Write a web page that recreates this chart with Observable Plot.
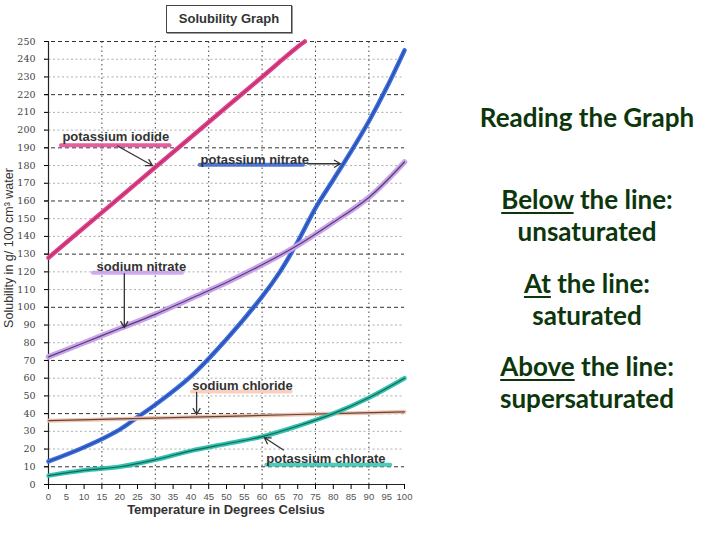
<!DOCTYPE html>
<html>
<head>
<meta charset="utf-8">
<script src="https://cdn.jsdelivr.net/npm/d3@7"></script>
<script src="https://cdn.jsdelivr.net/npm/@observablehq/plot@0.6"></script>
<style>
  html, body { margin: 0; padding: 0; background: #fff; }
  #wrap { position: relative; width: 720px; height: 540px; overflow: hidden; }
  #chart { position: absolute; left: 0; top: 0; }
  .title { position: absolute; left: 166px; top: 5px; width: 124px; height: 26px; border: 1.5px solid #444;
           font: bold 13px "Liberation Sans", Arial, sans-serif; color: #333; text-align: center; line-height: 26px;
           box-shadow: 1px 1px 0 #999; }
  .side { position: absolute; left: 457px; width: 260px; text-align: center;
          font: bold 26px Lato, "Open Sans", sans-serif; color: #0c360c; line-height: 30px; }
  .side u { text-decoration-thickness: 2px; text-underline-offset: 3px; }
</style>
</head>
<body>
<div id="wrap">
  <div id="chart"></div>
  <div class="title">Solubility Graph</div>
  <div class="side" style="top:102px">Reading the Graph</div>
  <div class="side" style="top:184px"><u>Below</u> the line:</div>
  <div class="side" style="top:216px">unsaturated</div>
  <div class="side" style="top:268px"><u>At</u> the line:</div>
  <div class="side" style="top:300px">saturated</div>
  <div class="side" style="top:351px"><u>Above</u> the line:</div>
  <div class="side" style="top:383px">supersaturated</div>
</div>
<script>
// Temperatures (°C) and solubilities (g / 100 cm3 water)
const kiTemp = [0, 10, 20, 30, 40, 50, 60, 70, 72];
const kiSol  = [128, 145, 162, 179, 196, 213, 230, 247, 250];

const kno3Temp = [0, 10, 20, 25, 30, 40, 50, 60, 65, 70, 75, 80, 85, 90, 95, 100];
const kno3Sol  = [13, 21, 31, 38, 45, 61, 82, 106, 120, 137, 156, 172, 188, 205, 224, 245];

const nano3Temp = [0, 10, 20, 30, 40, 50, 60, 70, 80, 90, 100];
const nano3Sol  = [72, 80, 88, 96, 105, 114, 124, 135, 148, 162, 182];

const naclTemp = [0, 20, 40, 60, 80, 100];
const naclSol  = [36, 37, 38, 39, 40, 41];

const kclo3Temp = [0, 10, 20, 30, 40, 50, 60, 70, 80, 90, 100];
const kclo3Sol  = [5, 8, 10, 14, 19, 23, 27, 33, 40, 49, 60];

// Label annotations (data coordinates)
const labelNames = ["potassium iodide", "potassium nitrate", "sodium nitrate", "sodium chloride", "potassium chlorate"];
const labelX = [3.9, 42.7, 13.5, 40.4, 61.2];
const labelY = [196, 183.5, 123, 55.5, 14.7];
const underlineX1 = [3.5, 42.5, 12.5, 40.3, 61.2];
const underlineX2 = [34, 71.5, 37.5, 68, 96];
const underlineY = [191.5, 180.5, 119.5, 52.5, 11.2];
const arrowX1 = [19.4, 72.8, 21.3, 41.6, 66];
const arrowY1 = [191, 181, 119, 52, 19.5];
const arrowX2 = [29.2, 82, 21.3, 41.6, 60.6];
const arrowY2 = [180, 181, 88.5, 39.5, 26.5];

const yTicks = d3.range(0, 251, 10);
const xTicks = d3.range(0, 101, 5);
const heavyY = d3.range(10, 251, 30);
const lightY = yTicks.filter(v => v > 0 && !heavyY.includes(v));
const xGrid = [15, 30, 45, 60, 75, 90];

const series = [
  {name: "ki", t: kiTemp, s: kiSol, under: "#e0428c", top: "#b02a66", w: 4.5},
  {name: "kno3", t: kno3Temp, s: kno3Sol, under: "#3a6ee0", top: "#2a3f8a", w: 4.5},
  {name: "nano3", t: nano3Temp, s: nano3Sol, under: "#c9a2ec", top: "#3b2352", w: 5.5},
  {name: "nacl", t: naclTemp, s: naclSol, under: "#f3c4ae", top: "#3a2626", w: 4},
  {name: "kclo3", t: kclo3Temp, s: kclo3Sol, under: "#2cc4ae", top: "#1e4a44", w: 4.5}
];
const hlColors = ["#e0428c", "#2f5fd0", "#c69cf0", "#f6c8b4", "#2cc4ae"];

const labels = labelNames.map((n, i) => ({
  name: n, x: labelX[i], y: labelY[i],
  ux1: underlineX1[i], ux2: underlineX2[i], uy: underlineY[i],
  ax1: arrowX1[i], ay1: arrowY1[i], ax2: arrowX2[i], ay2: arrowY2[i],
  hl: hlColors[i]
}));

const marks = [
  Plot.ruleY(lightY, {stroke: "#999", strokeWidth: 0.8, strokeDasharray: "2,2.5", x1: 0, x2: 100, insetLeft: -4}),
  Plot.ruleY(heavyY, {stroke: "#333", strokeWidth: 1, strokeDasharray: "4,3", x1: 0, x2: 100, insetLeft: -4}),
  Plot.ruleX(xGrid, {stroke: "#444", strokeWidth: 1, strokeDasharray: "1.5,3", y1: 0, y2: 250}),
  Plot.ruleX([0], {stroke: "#222", strokeWidth: 1.2, y1: 0, y2: 250}),
  Plot.ruleY([0], {stroke: "#222", strokeWidth: 1.2}),
  Plot.axisY({ticks: yTicks, tickSize: 4, fontSize: 9.5, fontFamily: "DejaVu Serif, serif", fill: "#444", tickPadding: 9, label: null}),
  Plot.axisX({ticks: xTicks, tickSize: 5, fontSize: 9.5, fontFamily: "Liberation Sans, sans-serif", fill: "#555", tickPadding: 4, label: null}),
  // highlight underlines
  Plot.link(labels, {x1: "ux1", x2: "ux2", y1: "uy", y2: "uy", stroke: "hl", strokeWidth: 4, strokeOpacity: 0.85, strokeLinecap: "round"})
];

for (const sr of series) {
  const data = sr.t.map((t, i) => ({t, s: sr.s[i]}));
  marks.push(Plot.line(data, {x: "t", y: "s", stroke: sr.under, strokeWidth: sr.w, curve: "catmull-rom", strokeLinecap: "round"}));
  marks.push(Plot.line(data, {x: "t", y: "s", stroke: sr.top, strokeWidth: 1.2, curve: "catmull-rom", strokeOpacity: 0.8}));
}

marks.push(
  Plot.arrow(labels, {x1: "ax1", y1: "ay1", x2: "ax2", y2: "ay2", stroke: "#333", strokeWidth: 1.3, headLength: 8}),
  Plot.text(labels, {x: "x", y: "y", text: "name", textAnchor: "start", fontSize: 13, fontWeight: "bold",
                     fontFamily: "Liberation Sans, Arial, sans-serif", fill: "#333"})
);

const chart = Plot.plot({
  width: 720, height: 540,
  marginLeft: 48, marginRight: 316, marginTop: 41, marginBottom: 56,
  x: {domain: [0, 100]},
  y: {domain: [0, 250]},
  style: {background: "transparent"},
  marks
});

// axis titles
const svg = d3.select(chart);
svg.append("text").attr("x", 226).attr("y", 514).attr("text-anchor", "middle")
  .attr("font-family", "Liberation Sans, Arial, sans-serif").attr("font-weight", "bold").attr("font-size", 13).attr("fill", "#333")
  .text("Temperature in Degrees Celsius");
svg.append("text").attr("transform", "translate(13,248) rotate(-90)").attr("text-anchor", "middle")
  .attr("font-family", "Liberation Sans, Arial, sans-serif").attr("font-size", 12.5).attr("fill", "#333")
  .text("Solubility in g/ 100 cm³ water");

document.getElementById("chart").appendChild(chart);
</script>
</body>
</html>
